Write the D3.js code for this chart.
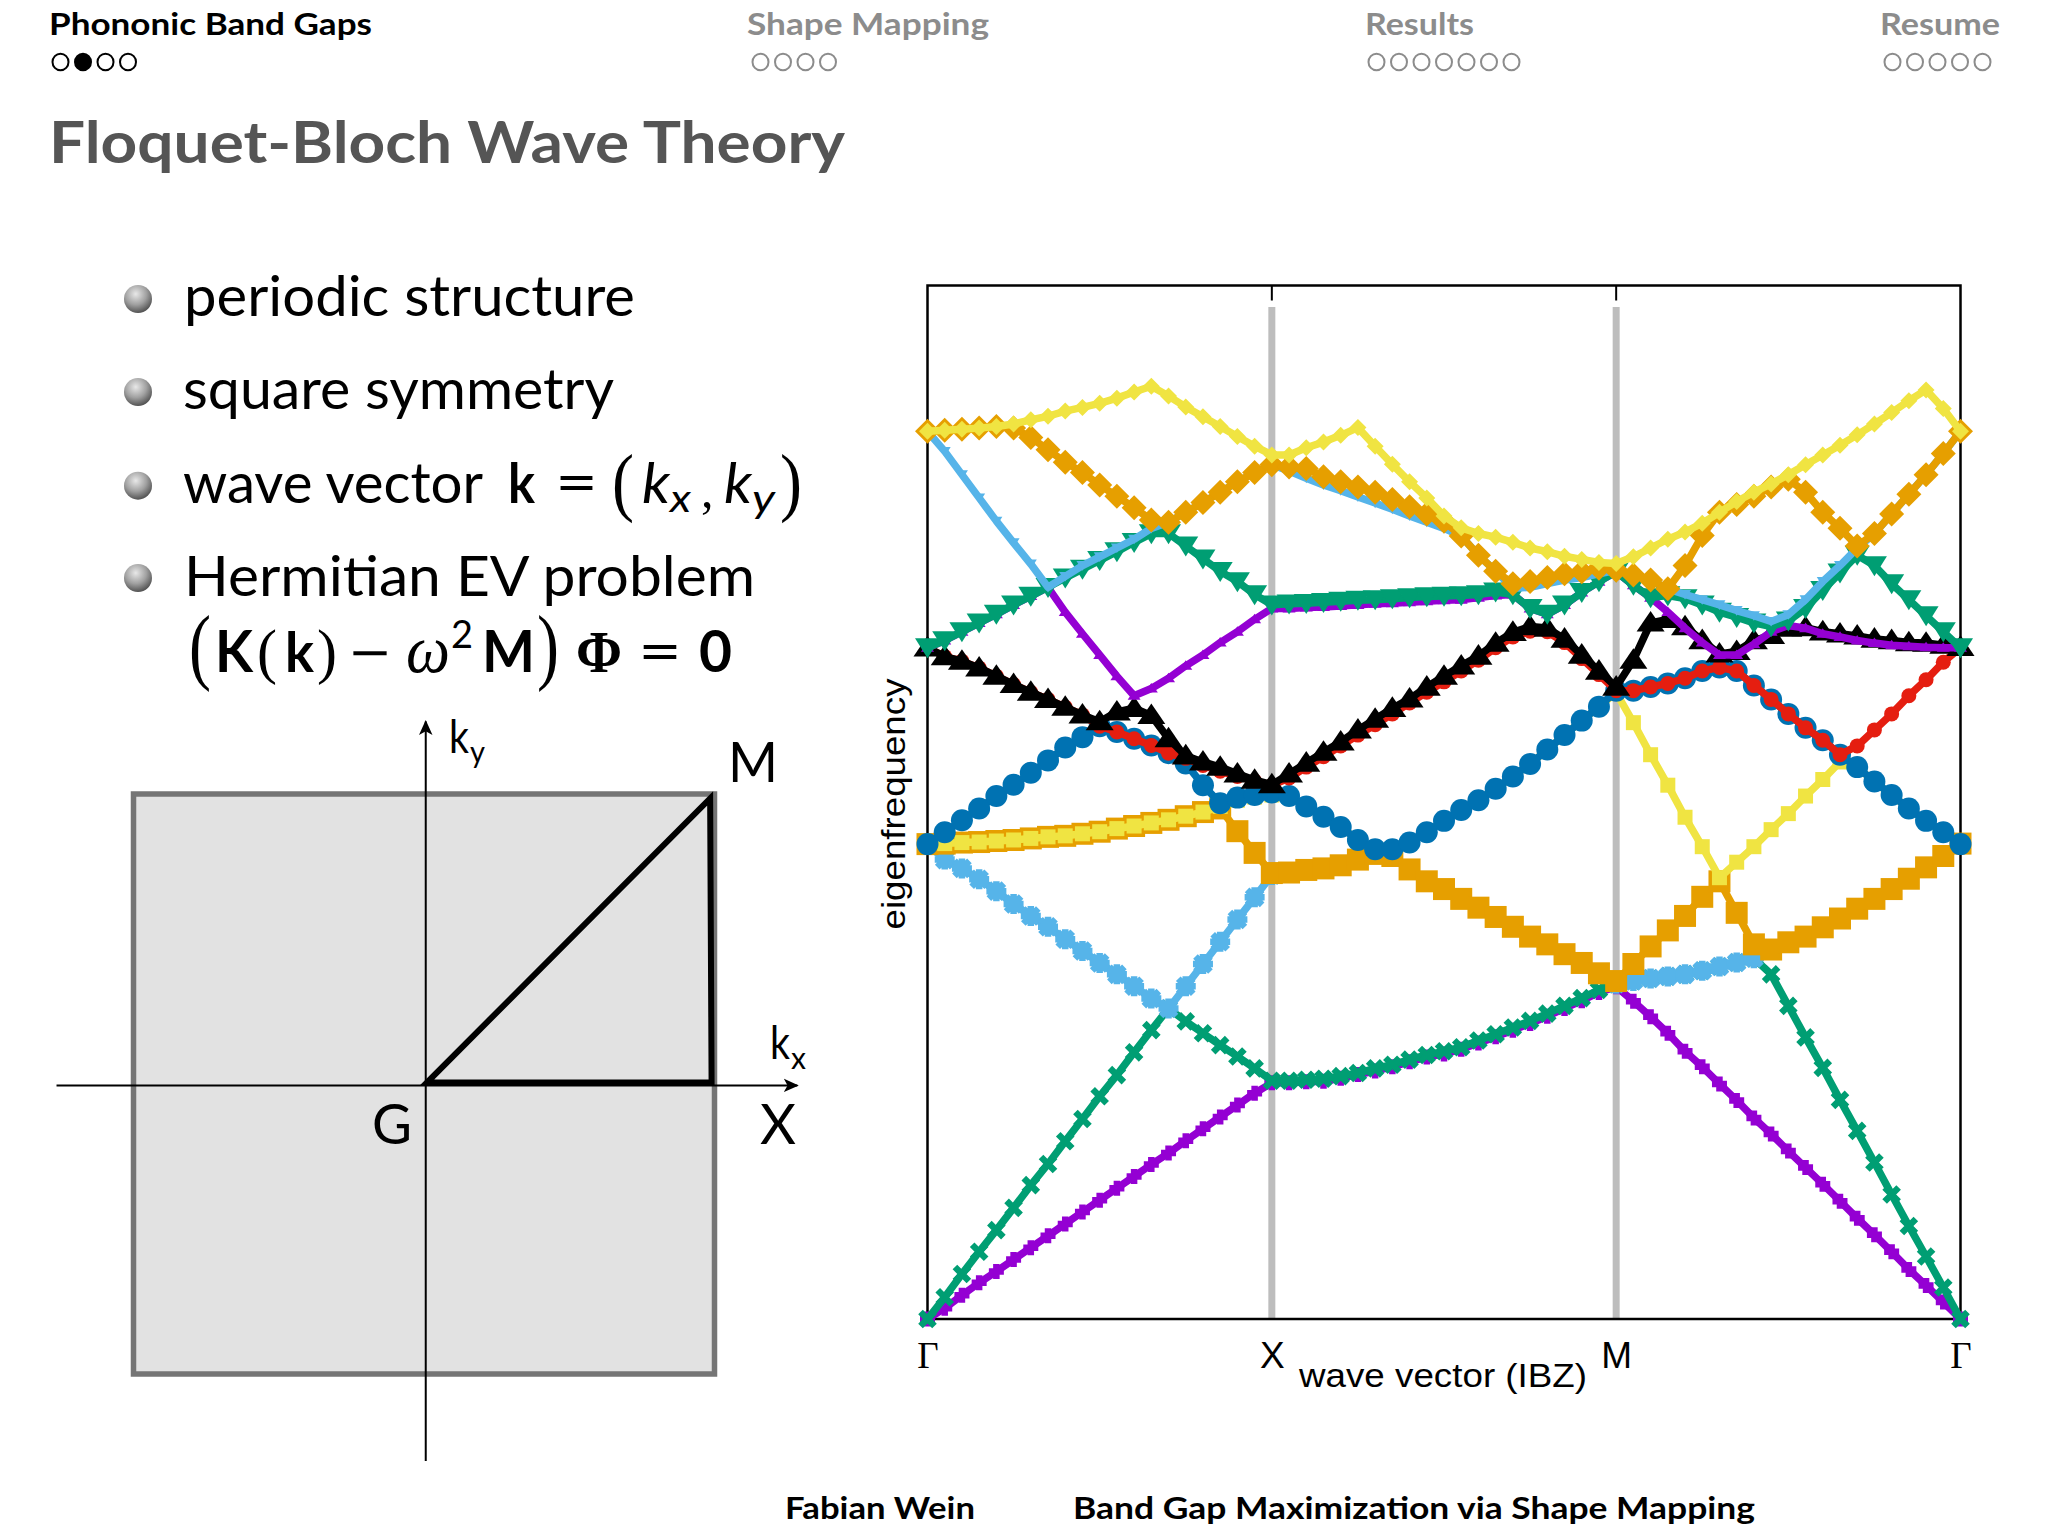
<!DOCTYPE html>
<html>
<head>
<meta charset="utf-8">
<script src="https://cdn.jsdelivr.net/npm/d3@7"></script>
<style>
html, body { margin: 0; background: #fff; }
svg { display: block; }
</style>
</head>
<body>
<script>
// values are eigenfrequency, 0..100 over the plot height, 61 k-points per band
var band1 = [0,1.05,2.3,3.5,4.6,5.75,6.9,8.05,9.2,10.35,
  11.5,12.65,13.8,14.95,16.05,17.25,18.4,19.55,20.7,21.85,
  22.85,22.85,22.95,23.0,23.3,23.65,24.0,24.4,24.9,25.35,
  25.65,26.1,26.7,27.3,27.95,28.6,29.3,30.05,30.8,31.6,
  32.15,30.75,29.25,27.65,25.9,24.4,22.75,21.15,19.45,17.9,
  16.25,14.65,13.05,11.4,9.75,8.15,6.5,4.8,3.25,1.65,
  0];
var band2 = [0,2.1,4.35,6.5,8.6,10.75,12.95,15.0,17.2,19.35,
  21.55,23.6,25.8,27.95,30.05,28.8,27.65,26.5,25.4,24.25,
  23.05,23.05,23.15,23.25,23.5,23.8,24.25,24.6,25.1,25.55,
  25.9,26.3,26.95,27.55,28.2,28.85,29.55,30.3,31.05,31.85,
  32.4,32.7,32.95,33.15,33.35,33.7,34.1,34.5,34.9,33.35,
  30.3,27.25,24.3,21.2,18.2,15.15,12.05,9.0,6.05,3.05,
  0];
var band3 = [45.95,44.45,43.6,42.55,41.4,40.15,39.0,37.95,36.75,35.6,
  34.45,33.35,32.2,31.0,30.05,32.2,34.35,36.5,38.65,40.8,
  42.95,43.2,43.45,43.6,43.9,44.45,45.0,44.8,43.5,42.35,
  41.6,40.65,39.8,38.9,37.95,37.0,36.25,35.3,34.45,33.45,
  32.45,32.7,32.95,33.15,33.35,33.7,34.1,34.5,34.9,35.75,
  36.45,37.0,37.9,38.75,39.7,40.65,41.6,42.6,43.7,44.8,
  46.0];
var band4 = [45.95,46.0,46.1,46.15,46.25,46.35,46.5,46.65,46.75,46.95,
  47.15,47.45,47.7,48.0,48.3,48.65,49.05,49.4,47.2,45.1,
  43.15,43.2,43.45,43.6,43.9,44.45,45.0,44.8,43.5,42.35,
  41.6,40.65,39.8,38.9,37.95,37.0,36.25,35.3,34.45,33.45,
  32.7,34.35,36.05,37.6,39.0,40.85,42.35,39.3,36.25,35.75,
  36.45,37.0,37.9,38.75,39.7,40.65,41.6,42.6,43.7,44.8,
  46.0];
var band5 = [45.95,46.0,46.1,46.15,46.25,46.35,46.5,46.65,46.75,46.95,
  47.15,47.45,47.7,48.0,48.3,48.65,49.05,49.6,50.2,50.5,
  50.7,50.6,49.6,48.6,47.6,46.35,45.45,45.45,46.1,47.1,
  48.2,49.25,50.2,51.3,52.5,53.7,55.1,56.5,57.9,59.25,
  60.6,57.7,54.6,51.65,48.55,45.7,42.7,44.2,45.7,47.35,
  48.9,50.6,52.2,53.9,53.4,52.0,50.7,49.4,48.2,47.1,
  45.95];
var band6 = [45.95,47.1,48.25,49.4,50.6,51.7,52.85,54.05,55.3,56.3,
  57.35,56.8,56.15,55.5,54.75,53.75,51.65,49.9,50.45,50.7,
  50.95,50.6,49.6,48.6,47.6,46.35,45.45,45.45,46.1,47.1,
  48.2,49.25,50.2,51.3,52.5,53.7,55.1,56.5,57.9,59.25,
  60.8,60.8,61.15,61.5,62.0,62.7,63.05,62.7,61.3,59.95,
  58.55,57.2,56.0,54.6,53.4,52.0,50.7,49.4,48.2,47.1,
  45.95];
var band7 = [64.95,64.1,63.65,63.0,62.2,61.4,60.65,59.95,59.2,58.45,
  57.35,56.8,56.15,55.5,54.75,54.25,53.55,53.0,52.5,52.05,
  51.65,52.35,53.4,54.4,55.45,56.5,57.5,58.55,59.6,60.65,
  61.65,62.7,63.75,64.95,66.0,66.55,66.5,65.45,63.9,62.35,
  60.8,60.8,61.15,61.5,62.0,62.7,63.05,62.7,61.3,59.95,
  58.55,57.2,56.0,54.6,55.45,57.0,58.55,60.3,61.85,63.55,
  64.95];
var band8 = [64.95,64.1,63.65,63.0,62.2,61.4,60.65,59.95,59.2,58.45,
  57.8,58.75,59.1,58.4,56.15,54.5,53.9,53.4,52.75,52.15,
  51.7,52.75,53.8,54.85,55.85,57.0,58.05,59.1,60.0,61.15,
  62.2,63.2,64.15,65.4,66.45,67.0,66.85,65.8,64.25,62.7,
  61.15,63.75,67.35,67.7,67.0,65.65,64.35,64.6,65.65,66.15,
  66.85,66.9,66.5,66.3,66.1,65.8,65.65,65.45,65.4,65.2,
  65.0];
var band9 = [64.95,65.65,66.5,67.35,68.2,69.1,69.95,70.8,68.4,66.3,
  64.25,62.2,60.3,61.0,62.0,63.2,64.25,65.45,66.5,67.7,
  68.75,68.75,68.85,68.9,69.0,69.1,69.2,69.25,69.35,69.45,
  69.55,69.6,69.8,70.0,70.1,68.75,68.2,69.1,70.3,71.35,
  72.3,71.0,69.8,68.4,66.85,65.45,64.25,64.25,65.3,66.5,
  67.1,66.85,66.3,66.0,65.65,65.4,65.2,65.1,65.0,64.95,
  64.95];
var band10 = [64.95,65.65,66.5,67.35,68.2,69.1,69.95,70.8,71.7,72.55,
  73.4,74.25,75.15,76.0,76.0,74.8,73.55,72.35,71.35,70.1,
  69.1,69.2,69.25,69.35,69.45,69.55,69.6,69.7,69.8,69.9,
  69.95,70.0,70.1,70.35,70.1,68.75,68.2,69.1,70.3,71.35,
  72.3,71.0,69.8,70.0,69.7,69.1,68.4,67.9,67.35,67.0,
  67.55,68.75,70.5,72.2,73.9,72.9,71.15,69.6,68.05,66.5,
  64.95];
var band11 = [85.9,83.95,81.7,79.45,77.2,75.1,73.05,70.8,71.85,72.9,
  73.75,74.6,75.45,76.5,77.1,78.05,79.0,80.0,81.0,81.9,
  82.65,82.05,81.35,80.7,80.15,79.55,78.95,78.35,77.7,77.1,
  76.5,75.75,73.9,72.35,70.7,70.8,71.15,71.5,71.75,72.1,
  72.45,72.0,71.5,70.65,70.1,69.6,69.1,68.55,68.05,67.5,
  68.15,69.6,71.35,72.9,74.6,76.0,77.9,79.8,81.7,83.75,
  85.9];
var band12 = [85.9,86.0,86.1,86.2,86.35,86.2,85.3,84.1,82.9,81.9,
  80.7,79.6,78.5,77.3,77.1,78.05,79.0,80.0,81.0,81.9,
  82.65,82.45,82.3,81.5,81.0,80.5,80.0,79.3,78.6,77.9,
  77.2,75.75,73.9,72.35,71.15,71.35,71.75,72.1,72.3,72.65,
  72.45,72.0,71.5,70.65,72.9,75.8,78.05,78.8,79.6,80.5,
  81.25,80.0,78.05,76.5,74.8,76.0,77.9,79.8,81.7,83.75,
  85.9];
var band13 = [85.9,86.0,86.1,86.2,86.35,86.6,87.0,87.35,87.85,88.2,
  88.6,89.1,89.7,90.25,89.3,88.25,87.3,86.35,85.4,84.45,
  83.6,83.6,84.3,84.85,85.5,86.25,84.45,82.7,81.0,79.45,
  77.7,76.55,76.0,75.65,75.15,74.6,74.25,73.8,73.5,73.2,
  73.1,73.75,74.6,75.45,76.15,77.0,78.05,79.1,80.0,80.8,
  81.7,82.65,83.6,84.55,85.55,86.6,87.7,88.85,89.9,88.1,
  85.9];

var tickIndex = [0, 20, 40, 60];
var tickNames = ["Γ", "X", "M", "Γ"];

var navSections = ["Phononic Band Gaps", "Shape Mapping", "Results", "Resume"];
var navDots = [4, 4, 7, 5];

var svg = d3.select("body").append("svg")
  .attr("width", 2048)
  .attr("height", 1536)
  .attr("viewBox", "0 0 2048 1536");

var sans = "Lato, 'Open Sans', sans-serif";
var serif = "'Liberation Serif', serif";
var plotFont = "'Liberation Sans', sans-serif";

function label(t, x, y, size, opts) {
  opts = opts || {};
  var el = svg.append("text")
    .attr("x", x)
    .attr("y", y)
    .attr("font-size", size)
    .attr("font-family", opts.family || sans)
    .attr("font-weight", opts.weight || 400)
    .attr("font-style", opts.style || "normal")
    .attr("fill", opts.fill || "#000")
    .text(t);
  if (opts.len) el.attr("textLength", opts.len).attr("lengthAdjust", "spacingAndGlyphs");
  return el;
}

// ---- header ----
var navX = [49, 747, 1365, 1880];
var navLen = [323, 242, 109, 120];
var dotX = [60.5, 760.5, 1376.5, 1892.5];
navSections.forEach(function(s, i) {
  var col = i == 0 ? "#000" : "#8c8c8c";
  label(s, navX[i], 35, 30, {weight: 700, fill: col, len: navLen[i]});
  svg.selectAll(null)
    .data(d3.range(navDots[i]))
    .enter().append("ellipse")
    .attr("cx", d => dotX[i] + d * 22.5)
    .attr("cy", 62)
    .attr("rx", 8)
    .attr("ry", 8.3)
    .attr("fill", d => (i == 0 && d == 1) ? "#000" : "#fff")
    .attr("stroke", col)
    .attr("stroke-width", 2);
});

label("Floquet-Bloch Wave Theory", 49, 163, 58, {weight: 700, fill: "#555", len: 796});

// ---- bullets ----
var grad = svg.append("defs").append("radialGradient")
  .attr("id", "ball").attr("cx", "42%").attr("cy", "32%").attr("r", "70%");
grad.append("stop").attr("offset", "0%").attr("stop-color", "#e8e8e8");
grad.append("stop").attr("offset", "55%").attr("stop-color", "#a0a0a0");
grad.append("stop").attr("offset", "100%").attr("stop-color", "#4e4e4e");

svg.selectAll(null)
  .data([299, 392, 485.7, 578])
  .enter().append("circle")
  .attr("cx", 138)
  .attr("cy", d => d)
  .attr("r", 14)
  .attr("fill", "url(#ball)");

label("periodic structure", 184, 315.5, 56, {len: 451});
label("square symmetry", 183, 409, 56, {len: 431});
label("wave vector", 183, 502.5, 56, {len: 300});
label("k", 508, 502.5, 56, {weight: 700, len: 27});
label("=", 555, 502.5, 60, {len: 43});
label("(", 612, 507, 76, {family: serif, len: 22});
label("k", 642, 502.5, 56, {style: "italic", len: 28});
label("x", 670, 512, 38, {style: "italic", len: 21});
label(",", 701, 507, 50, {family: serif});
label("k", 724, 502.5, 56, {style: "italic", len: 28});
label("y", 752, 512, 38, {style: "italic", len: 23});
label(")", 780, 507, 76, {family: serif, len: 22});
label("Hermitian EV problem", 184, 595.5, 56, {len: 571});

label("(", 189, 674, 84, {family: serif, len: 22});
label("K", 215, 672, 58, {weight: 700, len: 38});
label("(", 257, 672, 62, {family: serif, len: 20});
label("k", 285, 672, 56, {weight: 700, len: 29});
label(")", 317, 672, 62, {family: serif, len: 20});
label("−", 350, 672, 56, {family: plotFont, len: 40});
label("ω", 406, 672, 68, {family: serif, style: "italic", len: 44});
label("2", 451, 648, 38, {len: 22});
label("M", 482, 672, 58, {weight: 700, len: 53});
label(")", 537, 674, 84, {family: serif, len: 22});
label("Φ", 576, 672, 60, {family: serif, weight: 700, len: 46});
label("=", 638, 672, 60, {len: 44});
label("0", 699, 672, 58, {weight: 700, len: 33});

// ---- Brillouin zone sketch ----
var kx = d3.scaleLinear().domain([-1, 1]).range([133.5, 714.5]);
var ky = d3.scaleLinear().domain([-1, 1]).range([1374, 794]);

var zoneEdge = [-1, 1];
svg.append("rect")
  .attr("x", kx(zoneEdge[0]))
  .attr("y", ky(zoneEdge[1]))
  .attr("width", kx(zoneEdge[1]) - kx(zoneEdge[0]))
  .attr("height", ky(zoneEdge[0]) - ky(zoneEdge[1]))
  .attr("fill", "#e2e2e2")
  .attr("stroke", "#757575")
  .attr("stroke-width", 5.5);

var defs = svg.select("defs");
defs.append("marker")
  .attr("id", "arrow").attr("viewBox", "0 0 10 10").attr("refX", 9).attr("refY", 5)
  .attr("markerWidth", 15).attr("markerHeight", 15).attr("markerUnits", "userSpaceOnUse")
  .attr("orient", "auto")
  .append("path").attr("d", "M0,0.5L10,5L0,9.5L2.5,5Z").attr("fill", "#000");

svg.append("line")
  .attr("x1", kx(-1.265)).attr("y1", ky(-0.005)).attr("x2", kx(1.285)).attr("y2", ky(-0.005))
  .attr("stroke", "#000").attr("stroke-width", 2).attr("marker-end", "url(#arrow)");
svg.append("line")
  .attr("x1", kx(0.006)).attr("y1", ky(-1.3)).attr("x2", kx(0.006)).attr("y2", ky(1.25))
  .attr("stroke", "#000").attr("stroke-width", 2).attr("marker-end", "url(#arrow)");

var ibz = [[0.01, 0.005], [0.99, 0.005], [0.985, 0.985]];
svg.append("path")
  .attr("d", d3.line().x(d => kx(d[0])).y(d => ky(d[1]))(ibz) + "Z")
  .attr("fill", "none")
  .attr("stroke", "#000")
  .attr("stroke-width", 6);

label("k", 449, 753, 46, {len: 20});
label("y", 470, 763, 30, {len: 15});
label("M", 728, 782, 56, {len: 50});
label("k", 770, 1059, 46, {len: 20});
label("x", 791, 1069, 30, {len: 15});
label("G", 372, 1144, 56, {len: 40});
label("X", 760, 1144, 56, {len: 36});

// ---- band diagram ----
var x = d3.scaleLinear().domain([0, 60]).range([927.5, 1960.5]);
var y = d3.scaleLinear().domain([0, 100]).range([1319, 285.5]);

// symbols, r is half size in px
function plus(c, r) { c.moveTo(-r, 0); c.lineTo(r, 0); c.moveTo(0, -r); c.lineTo(0, r); }
function cross(c, r) { c.moveTo(-r, -r); c.lineTo(r, r); c.moveTo(-r, r); c.lineTo(r, -r); }
function star(c, r) { plus(c, r); var s = r * 0.75; cross(c, s); }
function square(c, r) { c.rect(-r, -r, 2 * r, 2 * r); }
function circle(c, r) { c.moveTo(r, 0); c.arc(0, 0, r, 0, 2 * Math.PI); }
function up(c, r) { c.moveTo(0, -r * 0.85); c.lineTo(r, r * 0.62); c.lineTo(-r, r * 0.62); c.closePath(); }
function down(c, r) { c.moveTo(0, r * 0.85); c.lineTo(r, -r * 0.75); c.lineTo(-r, -r * 0.75); c.closePath(); }
function diamond(c, r) { c.moveTo(0, -r); c.lineTo(r, 0); c.lineTo(0, r); c.lineTo(-r, 0); c.closePath(); }

var purple = "#9400D3", green = "#009E73", sky = "#56B4E9", orange = "#E69F00",
    yellow = "#F0E442", blue = "#0072B2", red = "#E51E10", black = "#000000";

var bands = [
  {v: band1, col: purple, sym: plus, r: 7.5, open: true},
  {v: band2, col: green, sym: cross, r: 7, open: true},
  {v: band3, col: sky, sym: star, r: 10, open: true},
  {v: band4, col: orange, sym: square, r: 11},
  {v: band5, col: yellow, sym: square, r: 7.5},
  {v: band6, col: blue, sym: circle, r: 11},
  {v: band7, col: red, sym: circle, r: 7.5},
  {v: band8, col: black, sym: up, r: 14},
  {v: band9, col: purple, sym: up, r: 6.5},
  {v: band10, col: green, sym: down, r: 12.5},
  {v: band11, col: sky, sym: down, r: 6},
  {v: band12, col: orange, sym: diamond, r: 12.5},
  {v: band13, col: yellow, sym: diamond, r: 8.5}
];

var topTicks = tickIndex.slice(1, 3);

svg.selectAll(null)
  .data(topTicks)
  .enter().append("line")
  .attr("x1", d => x(d)).attr("x2", d => x(d))
  .attr("y1", 307).attr("y2", y(0))
  .attr("stroke", "#bdbdbd")
  .attr("stroke-width", 7);

svg.append("rect")
  .attr("x", x(0)).attr("y", y(100))
  .attr("width", x(60) - x(0)).attr("height", y(0) - y(100))
  .attr("fill", "none")
  .attr("stroke", "#000")
  .attr("stroke-width", 2.5);

svg.selectAll(null)
  .data(topTicks)
  .enter().append("line")
  .attr("x1", d => x(d)).attr("x2", d => x(d))
  .attr("y1", y(100)).attr("y2", y(100) + 15)
  .attr("stroke", "#000")
  .attr("stroke-width", 2);

var line = d3.line().x((d, i) => x(i)).y(d => y(d));

bands.forEach(function(b) {
  var g = svg.append("g");
  g.append("path")
    .attr("d", line(b.v))
    .attr("fill", "none")
    .attr("stroke", b.col)
    .attr("stroke-width", 7.5)
    .attr("stroke-linejoin", "round");
  var symbol = d3.symbol().type({draw: function(c) { b.sym(c, b.r); }});
  g.selectAll("path.pt")
    .data(b.v)
    .enter().append("path")
    .attr("class", "pt")
    .attr("transform", (d, i) => "translate(" + x(i) + "," + y(d) + ")")
    .attr("d", symbol())
    .attr("fill", b.open ? "none" : b.col)
    .attr("stroke", b.open ? b.col : "none")
    .attr("stroke-width", b.open ? 6.5 : 0);
});

// tick labels through the axis
var axis = d3.axisBottom(x)
  .tickValues(tickIndex)
  .tickSize(0)
  .tickPadding(23)
  .tickFormat((d, i) => tickNames[i]);

var axisG = svg.append("g")
  .attr("transform", "translate(0," + y(0) + ")")
  .call(axis);
axisG.select(".domain").remove();
axisG.selectAll("text")
  .attr("font-size", 37)
  .attr("font-family", d => (d == 20 || d == 40) ? plotFont : serif)
  .attr("fill", "#000");

label("wave vector (IBZ)", 1299, 1387, 34, {family: plotFont, len: 288});
svg.append("text")
  .attr("transform", "translate(905,804) rotate(-90)")
  .attr("text-anchor", "middle")
  .attr("font-size", 34)
  .attr("font-family", plotFont)
  .attr("textLength", 251)
  .attr("lengthAdjust", "spacingAndGlyphs")
  .text("eigenfrequency");

// ---- footer ----
label("Fabian Wein", 785, 1519, 30, {weight: 700, len: 190});
label("Band Gap Maximization via Shape Mapping", 1073, 1519, 30, {weight: 700, len: 682});
</script>
</body>
</html>
